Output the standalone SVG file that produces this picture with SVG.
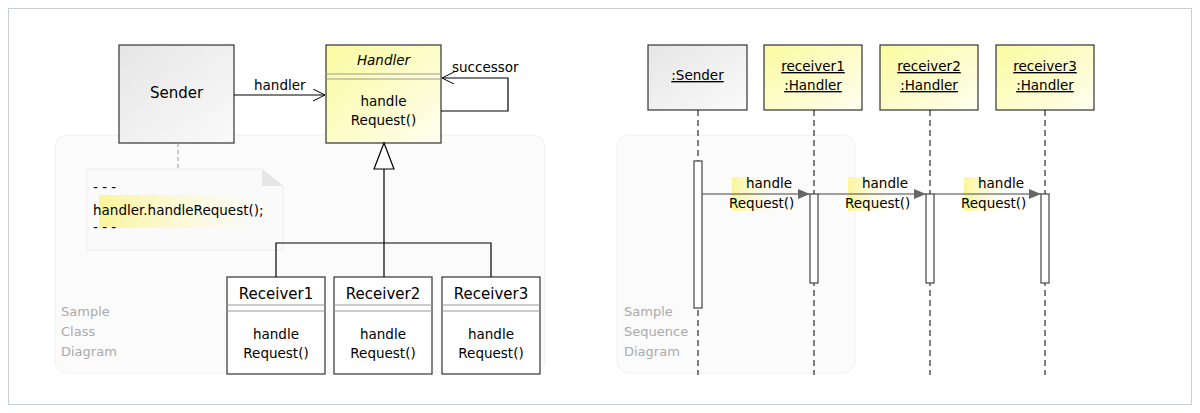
<svg xmlns="http://www.w3.org/2000/svg" width="1200" height="413" viewBox="0 0 1200 413">
<defs>
<linearGradient id="gy" x1="0" y1="0" x2="1" y2="1"><stop offset="0" stop-color="#fbfba0"/><stop offset="1" stop-color="#fefef0"/></linearGradient>
<linearGradient id="gg" x1="0" y1="0" x2="1" y2="1"><stop offset="0" stop-color="#e6e6e6"/><stop offset="1" stop-color="#fafafa"/></linearGradient>
<linearGradient id="hl" x1="0" y1="0" x2="1" y2="0"><stop offset="0" stop-color="#fbf59a"/><stop offset="1" stop-color="#fdfbe0" stop-opacity="0.3"/></linearGradient>
<marker id="open" markerWidth="14" markerHeight="14" refX="12" refY="6" orient="auto" markerUnits="userSpaceOnUse"><path d="M0,0 L12,6 L0,12" fill="none" stroke="#000" stroke-width="1"/></marker>
<marker id="fill" markerWidth="14" markerHeight="12" refX="12" refY="5" orient="auto" markerUnits="userSpaceOnUse"><path d="M0,0 L12,5 L0,10 Z" fill="#666"/></marker>
</defs>
<style>
text{font-family:"DejaVu Sans","Liberation Sans",sans-serif;font-size:13.5px;fill:#000}
.c{text-anchor:middle}
.big{font-size:15px}
.box{stroke:#333;stroke-width:1.2}
.ln{stroke:#000;stroke-width:1.2;fill:none}
.lbl{fill:#aaa;font-size:13px}
.life{stroke:#000;stroke-width:1;stroke-dasharray:6,4}
.act{fill:#fff;stroke:#444;stroke-width:1.2}
.sep{stroke:#999;stroke-width:1}
</style>
<rect x="8.5" y="8.5" width="1183" height="396" fill="#fff" stroke="#c8cfd8"/>
<rect x="55" y="135" width="490" height="238" rx="12" fill="#fbfbfb" stroke="#f0f0f0"/>
<rect x="617" y="135" width="238" height="238" rx="12" fill="#fbfbfb" stroke="#f0f0f0"/>
<g id="panel-labels">
<text class="lbl" x="61" y="316">Sample</text><text class="lbl" x="61" y="336">Class</text><text class="lbl" x="61" y="356">Diagram</text>
<text class="lbl" x="624" y="316">Sample</text><text class="lbl" x="624" y="336">Sequence</text><text class="lbl" x="624" y="356">Diagram</text>
</g>
<g id="sender"><rect class="box" x="119" y="45" width="115" height="98" fill="url(#gg)"/><text class="c big" x="176.5" y="98">Sender</text></g>
<g id="handler"><rect class="box" x="326" y="45" width="115" height="98" fill="url(#gy)"/>
<text class="c" x="383.5" y="65" font-style="italic">Handler</text>
<line class="sep" x1="326" y1="74" x2="441" y2="74"/><line class="sep" x1="326" y1="79" x2="441" y2="79"/>
<text class="c" x="383.5" y="106">handle</text><text class="c" x="383.5" y="125">Request()</text></g>
<g id="note"><path d="M87,169 H262 L283,186 V250 H87 Z" fill="#fafafa" stroke="#eee"/><path d="M262,169 V186 H283 Z" fill="#e6e6e6"/>
<rect x="99" y="195" width="146" height="33" fill="url(#hl)"/>
<text x="93" y="192">- - -</text><text x="93" y="215">handler.handleRequest();</text><text x="93" y="232">- - -</text></g>
<g id="receiver1"><rect class="box" x="227" y="277" width="98" height="97" fill="#fff"/><text class="c big" x="276" y="299">Receiver1</text>
<line class="sep" x1="227" y1="305" x2="325" y2="305"/><line class="sep" x1="227" y1="311" x2="325" y2="311"/><text class="c" x="276" y="339">handle</text><text class="c" x="276" y="358">Request()</text></g>
<g id="receiver2"><rect class="box" x="334" y="277" width="98" height="97" fill="#fff"/><text class="c big" x="383" y="299">Receiver2</text>
<line class="sep" x1="334" y1="305" x2="432" y2="305"/><line class="sep" x1="334" y1="311" x2="432" y2="311"/><text class="c" x="383" y="339">handle</text><text class="c" x="383" y="358">Request()</text></g>
<g id="receiver3"><rect class="box" x="442" y="277" width="98" height="97" fill="#fff"/><text class="c big" x="491" y="299">Receiver3</text>
<line class="sep" x1="442" y1="305" x2="540" y2="305"/><line class="sep" x1="442" y1="311" x2="540" y2="311"/><text class="c" x="491" y="339">handle</text><text class="c" x="491" y="358">Request()</text></g>
<g id="connectors">
<line class="ln" x1="234" y1="95" x2="325" y2="95" marker-end="url(#open)"/>
<text x="254" y="90">handler</text>
<polyline class="ln" points="441,111 508,111 508,78 442,78" marker-end="url(#open)"/>
<text x="452" y="72">successor</text>
<line x1="178" y1="143" x2="178" y2="169" stroke="#999" stroke-dasharray="4,3"/>
<polygon points="384,143 374,169 394,169" fill="#fff" stroke="#000" stroke-width="1.2"/>
<polyline class="ln" points="384,169 384,243"/>
<polyline class="ln" points="276,277 276,243 491,243 491,277"/>
<line class="ln" x1="384" y1="243" x2="384" y2="277"/>
</g>
<g id="seq-sender"><rect class="box" x="648" y="45" width="99" height="65" fill="url(#gg)"/><text class="c" x="697.5" y="80" text-decoration="underline">:Sender</text></g>
<g id="seq-r1"><rect class="box" x="764" y="45" width="98" height="65" fill="url(#gy)"/><text class="c" x="813" y="71" text-decoration="underline">receiver1</text><text class="c" x="813" y="90" text-decoration="underline">:Handler</text></g>
<g id="seq-r2"><rect class="box" x="880" y="45" width="98" height="65" fill="url(#gy)"/><text class="c" x="929" y="71" text-decoration="underline">receiver2</text><text class="c" x="929" y="90" text-decoration="underline">:Handler</text></g>
<g id="seq-r3"><rect class="box" x="996" y="45" width="98" height="65" fill="url(#gy)"/><text class="c" x="1045" y="71" text-decoration="underline">receiver3</text><text class="c" x="1045" y="90" text-decoration="underline">:Handler</text></g>
<g id="seq-connectors">
<line class="life" x1="698" y1="110" x2="698" y2="375"/><line class="life" x1="814" y1="110" x2="814" y2="375"/>
<line class="life" x1="930" y1="110" x2="930" y2="375"/><line class="life" x1="1045" y1="110" x2="1045" y2="375"/>
<rect class="act" x="694" y="161" width="8" height="147"/>
<rect class="act" x="810" y="194" width="8" height="89"/><rect class="act" x="926" y="194" width="8" height="89"/><rect class="act" x="1041" y="194" width="8" height="89"/>
<rect x="732" y="177" width="40" height="34" fill="url(#hl)"/><rect x="848" y="177" width="40" height="34" fill="url(#hl)"/><rect x="964" y="177" width="40" height="34" fill="url(#hl)"/>
<line x1="702" y1="194" x2="810" y2="194" stroke="#444" stroke-width="1.2" marker-end="url(#fill)"/>
<line x1="818" y1="194" x2="926" y2="194" stroke="#444" stroke-width="1.2" marker-end="url(#fill)"/>
<line x1="934" y1="194" x2="1041" y2="194" stroke="#444" stroke-width="1.2" marker-end="url(#fill)"/>
<text x="746" y="188">handle</text><text x="729" y="208">Request()</text>
<text x="862" y="188">handle</text><text x="845" y="208">Request()</text>
<text x="978" y="188">handle</text><text x="961" y="208">Request()</text>
</g>
</svg>
